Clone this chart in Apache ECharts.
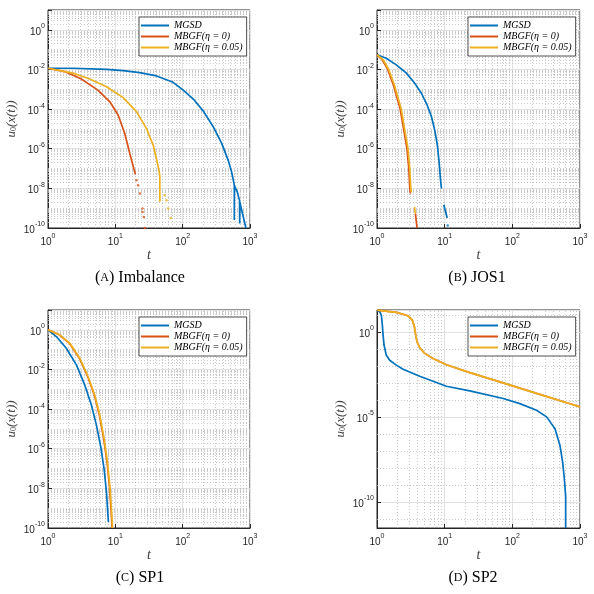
<!DOCTYPE html>
<html>
<head>
<meta charset="utf-8">
<script src="https://cdn.jsdelivr.net/npm/echarts@6/dist/echarts.min.js"></script>
<style>
  html, body { margin: 0; padding: 0; background: #fff; }
  #chart { width: 594px; height: 594px; }
</style>
</head>
<body>
<div id="chart"></div>
<script>
  var seriesNames = ['MGSD', 'MBGF(η = 0)', 'MBGF(η = 0.05)'];
  var captions = [['A', 'Imbalance'], ['B', 'JOS1'], ['C', 'SP1'], ['D', 'SP2']];

  // (A) Imbalance, [t, u0]
  var aMGSD = [[1, 1.15e-2], [2.35, 1.15e-2], [7.4, 1.02e-2], [13.1, 8.7e-3], [23, 6.9e-3], [41, 4.7e-3],
    [72, 2.24e-3], [102, 9.1e-4], [144, 3.2e-4], [203, 7.9e-5], [284, 1.29e-5], [380, 1.86e-6],
    [475, 2.6e-7], [533, 6.8e-8], [585, 1.45e-8], [585, 2.5e-10], [588, 1.3e-8], [648, 6.6e-9],
    [700, 2.4e-9], [703, 1.7e-10], [706, 2.0e-9], [795, 3.6e-10], [870, 1e-10]];
  var aBGF0 = [[1, 1.15e-2], [1.77, 7.8e-3], [3.13, 3.3e-3], [5.5, 9.1e-4], [8.3, 2.34e-4], [11, 5.0e-5],
    [13.8, 5.9e-6], [16.4, 5.75e-7], [18.8, 1.0e-7], [19.9, 5.0e-8]];
  var aBGF0Dots = [[20.6, 2.6e-8], [21.8, 1.45e-8], [23.1, 5.5e-9], [25.3, 9.5e-10], [25.4, 6.5e-10],
    [26.5, 3.6e-10], [27.4, 1.0e-10]];
  var aBGF5 = [[1, 1.15e-2], [2.35, 6.5e-3], [4.16, 3.3e-3], [7.4, 1.35e-3], [13.1, 3.8e-4], [20.6, 7.4e-5],
    [28.9, 1.07e-5], [36.5, 1.5e-6], [41.8, 2.2e-7], [44.8, 6.8e-8], [45.8, 4e-8], [45.8, 2.1e-9]];
  var aBGF5Dots = [[54, 4.5e-9], [57.6, 2.5e-9], [61, 9.5e-10], [66.7, 3.2e-10]];

  // (B) JOS1
  var bMGSD = [[1, 0.055], [1.37, 0.037], [1.93, 0.017], [2.72, 6.5e-3], [3.61, 2.0e-3], [4.53, 6.3e-4],
    [5.5, 1.62e-4], [6.37, 4.2e-5], [7.13, 8.7e-6], [7.81, 1.5e-6], [8.27, 2.2e-7], [8.65, 3.2e-8], [8.96, 9.8e-9]];
  var bMGSDTail = [[9.7, 1.5e-9], [10.9, 3.2e-10]];
  var bMGSDDots = [[11.1, 1.35e-10]];
  var bBGF0 = [[1, 0.055], [1.2, 0.03], [1.44, 0.01], [1.75, 1.6e-3], [2.2, 1e-4], [2.5, 8e-6],
    [2.77, 1e-6], [2.95, 1e-7], [3.05, 1e-8], [3.11, 5.5e-9]];
  var bBGF0Tail = [[3.69, 5.4e-10], [3.91, 1e-10]];
  var bBGF5 = [[1, 0.055], [1.24, 0.03], [1.49, 0.01], [1.81, 1.6e-3], [2.28, 1e-4], [2.59, 8e-6],
    [2.87, 1e-6], [3.05, 1e-7], [3.16, 1e-8], [3.22, 6.5e-9]];
  var bBGF5Tail = [[3.57, 1.15e-9], [3.69, 5.4e-10]];

  // (C) SP1
  var cMGSD = [[1, 1], [1.33, 0.457], [1.87, 0.117], [2.64, 0.017], [3.51, 1.66e-3], [4.41, 1.62e-4],
    [5.24, 1.55e-5], [6.07, 1.26e-6], [6.80, 1e-7], [7.38, 6.6e-9], [7.89, 2e-10]];
  var cBGF0 = [[1, 1], [1.47, 0.56], [2.07, 0.214], [2.92, 0.037], [3.88, 4.4e-3], [4.87, 5.1e-4],
    [5.79, 5e-5], [6.70, 3.3e-6], [7.52, 2.2e-7], [8.15, 1.45e-8], [8.62, 9.5e-10], [8.93, 1e-10]];
  var cBGF5 = [[1, 1], [1.49, 0.56], [2.10, 0.214], [2.96, 0.037], [3.94, 4.4e-3], [4.94, 5.1e-4],
    [5.87, 5e-5], [6.80, 3.3e-6], [7.63, 2.2e-7], [8.27, 1.45e-8], [8.75, 9.5e-10], [9.06, 1e-10]];

  // (D) SP2
  var dMGSD = [[1, 18.6], [1.095, 15.1], [1.16, 9.5], [1.2, 2.45], [1.23, 0.63], [1.27, 0.166],
    [1.37, 0.043], [1.54, 0.0214], [1.93, 0.011], [2.43, 6.3e-3], [4.28, 2.45e-3], [10.6, 6.3e-4],
    [23.5, 3.4e-4], [73.2, 1.2e-4], [129, 6.0e-5], [228, 2.45e-5], [321, 1.0e-5], [427, 2.0e-6],
    [506, 2.1e-7], [554, 2.2e-8], [580, 3.7e-9], [600, 7.6e-10], [614, 1.95e-10], [614, 3e-12]];
  var dBGF0 = [[1, 18.6], [1.93, 13.8], [2.88, 8.7], [3.33, 4.9], [3.57, 1.95], [3.73, 0.63], [3.91, 0.257],
    [4.28, 0.115], [5.07, 0.054], [6.74, 0.027], [10.6, 0.0115], [23.5, 4.0e-3], [73, 1.0e-3],
    [228, 2.4e-4], [711, 5.9e-5], [1000, 3.9e-5]];
  var dBGF5 = [[1, 18.6], [1.93, 13.8], [2.88, 8.7], [3.33, 4.9], [3.57, 1.95], [3.73, 0.63], [3.91, 0.257],
    [4.28, 0.115], [5.07, 0.054], [6.74, 0.027], [10.6, 0.0115], [23.5, 4.0e-3], [73, 1.0e-3],
    [228, 2.4e-4], [711, 5.9e-5], [1000, 3.9e-5]];

  var colors = ['#0072BD', '#D95319', '#EDB120'];
  var grids = [
    { left: 48, top: 10, width: 202, height: 218 },
    { left: 377, top: 10, width: 203, height: 218 },
    { left: 48, top: 310, width: 202, height: 218 },
    { left: 377, top: 310, width: 203, height: 218 }
  ];
  var legendPos = [[139, 17], [468, 17], [139, 317], [468, 317]];
  var captionPos = [[140, 278], [477, 278], [140, 578], [473, 578]];

  var labelRich = {
    b: { fontSize: 10, lineHeight: 14, fontFamily: 'Liberation Sans', color: '#262626', verticalAlign: 'bottom' },
    s: { fontSize: 7, lineHeight: 8, fontFamily: 'Liberation Sans', color: '#262626', verticalAlign: 'top' }
  };
  function powLabel(step) {
    return function (v) {
      var n = Math.round(v);
      if (Math.abs(v - n) > 1e-6 || n % step !== 0) return '';
      return '{b|10}{s|' + n + '}';
    };
  }

  function toLog(pts) {
    return pts.map(function (p) { return [Math.log10(p[0]), Math.log10(p[1])]; });
  }
  function line(name, pts, color, gi) {
    return {
      name: name, type: 'line', xAxisIndex: gi, yAxisIndex: gi, data: toLog(pts),
      symbol: 'none', lineStyle: { color: color, width: 1.7 }, itemStyle: { color: color },
      animation: false, z: 3
    };
  }
  function dots(name, pts, color, gi) {
    return {
      name: name, type: 'scatter', xAxisIndex: gi, yAxisIndex: gi, data: toLog(pts),
      symbolSize: 2.5, itemStyle: { color: color }, animation: false, z: 3
    };
  }

  // dotted minor grid (log spaced), drawn as mark lines in data space
  function minorGrid(gi, yDecades) {
    var marks = [];
    var k, n;
    for (n = 0; n < 3; n++) for (k = 2; k < 10; k++) marks.push({ xAxis: n + Math.log10(k) });
    yDecades.forEach(function (d) {
      if (d.minor) for (k = 2; k < 10; k++) marks.push({ yAxis: d.e + Math.log10(k) });
      if (d.line) marks.push({ yAxis: d.e });
    });
    return {
      type: 'line', xAxisIndex: gi, yAxisIndex: gi, data: [], silent: true, z: 1,
      markLine: {
        z: 1, silent: true, symbol: ['none', 'none'], label: { show: false }, animation: false,
        lineStyle: { color: '#bdbdbd', width: 0.8, type: [1, 2] },
        emphasis: { disabled: true },
        data: marks
      }
    };
  }
  var decadesABC = [];
  for (var e = -10; e <= 0; e++) decadesABC.push({ e: e, minor: true, line: e % 2 !== 0 });
  var decadesD = [];
  for (var e2 = -11; e2 <= 1; e2++) decadesD.push({ e: e2, minor: false, line: e2 % 5 !== 0 });

  var xAxes = grids.map(function (g, gi) {
    return {
      gridIndex: gi, type: 'value', min: 0, max: 3, interval: 1,
      name: 't', nameLocation: 'middle', nameGap: 18,
      nameTextStyle: { fontFamily: 'Liberation Serif', fontStyle: 'italic', fontSize: 14, color: '#404040' },
      axisLine: { show: true, onZero: false, lineStyle: { color: '#262626', width: 1 } },
      axisTick: { show: true, inside: true, length: 4, lineStyle: { color: '#262626' } },
      axisLabel: { formatter: powLabel(1), rich: labelRich, margin: 5 },
      splitLine: { show: true, lineStyle: { color: '#e2e2e2', width: 1 } }
    };
  });
  var yAxes = grids.map(function (g, gi) {
    var ax = {
      gridIndex: gi, type: 'value',
      name: '{i|u}{sub|0}{i|(x(t))}', nameLocation: 'middle', nameGap: 30,
      nameTextStyle: {
        color: '#404040',
        rich: {
          i: { fontFamily: 'Liberation Serif', fontStyle: 'italic', fontSize: 13, color: '#404040' },
          sub: { fontFamily: 'Liberation Serif', fontSize: 8, color: '#404040', verticalAlign: 'bottom' }
        }
      },
      axisLine: { show: true, onZero: false, lineStyle: { color: '#262626', width: 1 } },
      axisTick: { show: true, inside: true, length: 4, lineStyle: { color: '#262626' } },
      splitLine: { show: true, lineStyle: { color: '#e2e2e2', width: 1 } }
    };
    if (gi < 3) {
      ax.min = -10; ax.max = 1; ax.interval = 2;
      ax.axisLabel = { formatter: powLabel(2), rich: labelRich, margin: 3 };
    } else {
      ax.min = -11.53; ax.max = 1.28; ax.splitNumber = 3;
      ax.axisLabel = { formatter: powLabel(5), rich: labelRich, margin: 3 };
    }
    return ax;
  });

  var series = [
    minorGrid(0, decadesABC), minorGrid(1, decadesABC), minorGrid(2, decadesABC), minorGrid(3, decadesD),
    line(seriesNames[0], aMGSD, colors[0], 0),
    line(seriesNames[1], aBGF0, colors[1], 0),
    dots('aBGF0Dots', aBGF0Dots, colors[1], 0),
    line(seriesNames[2], aBGF5, colors[2], 0),
    dots('aBGF5Dots', aBGF5Dots, colors[2], 0),

    line(seriesNames[0], bMGSD, colors[0], 1),
    line('bMGSDTail', bMGSDTail, colors[0], 1),
    dots('bMGSDDots', bMGSDDots, colors[0], 1),
    line(seriesNames[1], bBGF0, colors[1], 1),
    line('bBGF0Tail', bBGF0Tail, colors[1], 1),
    line(seriesNames[2], bBGF5, colors[2], 1),
    line('bBGF5Tail', bBGF5Tail, colors[2], 1),

    line(seriesNames[0], cMGSD, colors[0], 2),
    line(seriesNames[1], cBGF0, colors[1], 2),
    line(seriesNames[2], cBGF5, colors[2], 2),

    line(seriesNames[0], dMGSD, colors[0], 3),
    line(seriesNames[1], dBGF0, colors[1], 3),
    line(seriesNames[2], dBGF5, colors[2], 3)
  ];

  var legends = legendPos.map(function (p) {
    return {
      data: seriesNames, orient: 'vertical', left: p[0], top: p[1], z: 10,
      icon: 'rect', itemWidth: 28, itemHeight: 2, itemGap: 0, padding: [3, 4, 3, 2],
      borderColor: '#262626', borderWidth: 0.8, backgroundColor: '#fff',
      selectedMode: false,
      textStyle: { fontFamily: 'Liberation Serif', fontStyle: 'italic', fontSize: 10, lineHeight: 11, color: '#000' }
    };
  });

  var captionText = captions.map(function (c, i) {
    return {
      type: 'text', x: captionPos[i][0], y: captionPos[i][1],
      style: {
        text: '({sc|' + c[0] + '}) ' + c[1],
        rich: { sc: { fontSize: 12, fontFamily: 'Liberation Serif', fill: '#000' } },
        fontSize: 16, fontFamily: 'Liberation Serif', fill: '#000',
        align: 'center', verticalAlign: 'middle'
      }
    };
  });

  var chart = echarts.init(document.getElementById('chart'));
  chart.setOption({
    backgroundColor: '#fff',
    animation: false,
    grid: grids.map(function (g) {
      return { left: g.left, top: g.top, width: g.width, height: g.height, show: true,
        borderColor: '#262626', borderWidth: 1, backgroundColor: '#fff' };
    }),
    xAxis: xAxes,
    yAxis: yAxes,
    legend: legends,
    graphic: captionText,
    series: series
  });
</script>
</body>
</html>
